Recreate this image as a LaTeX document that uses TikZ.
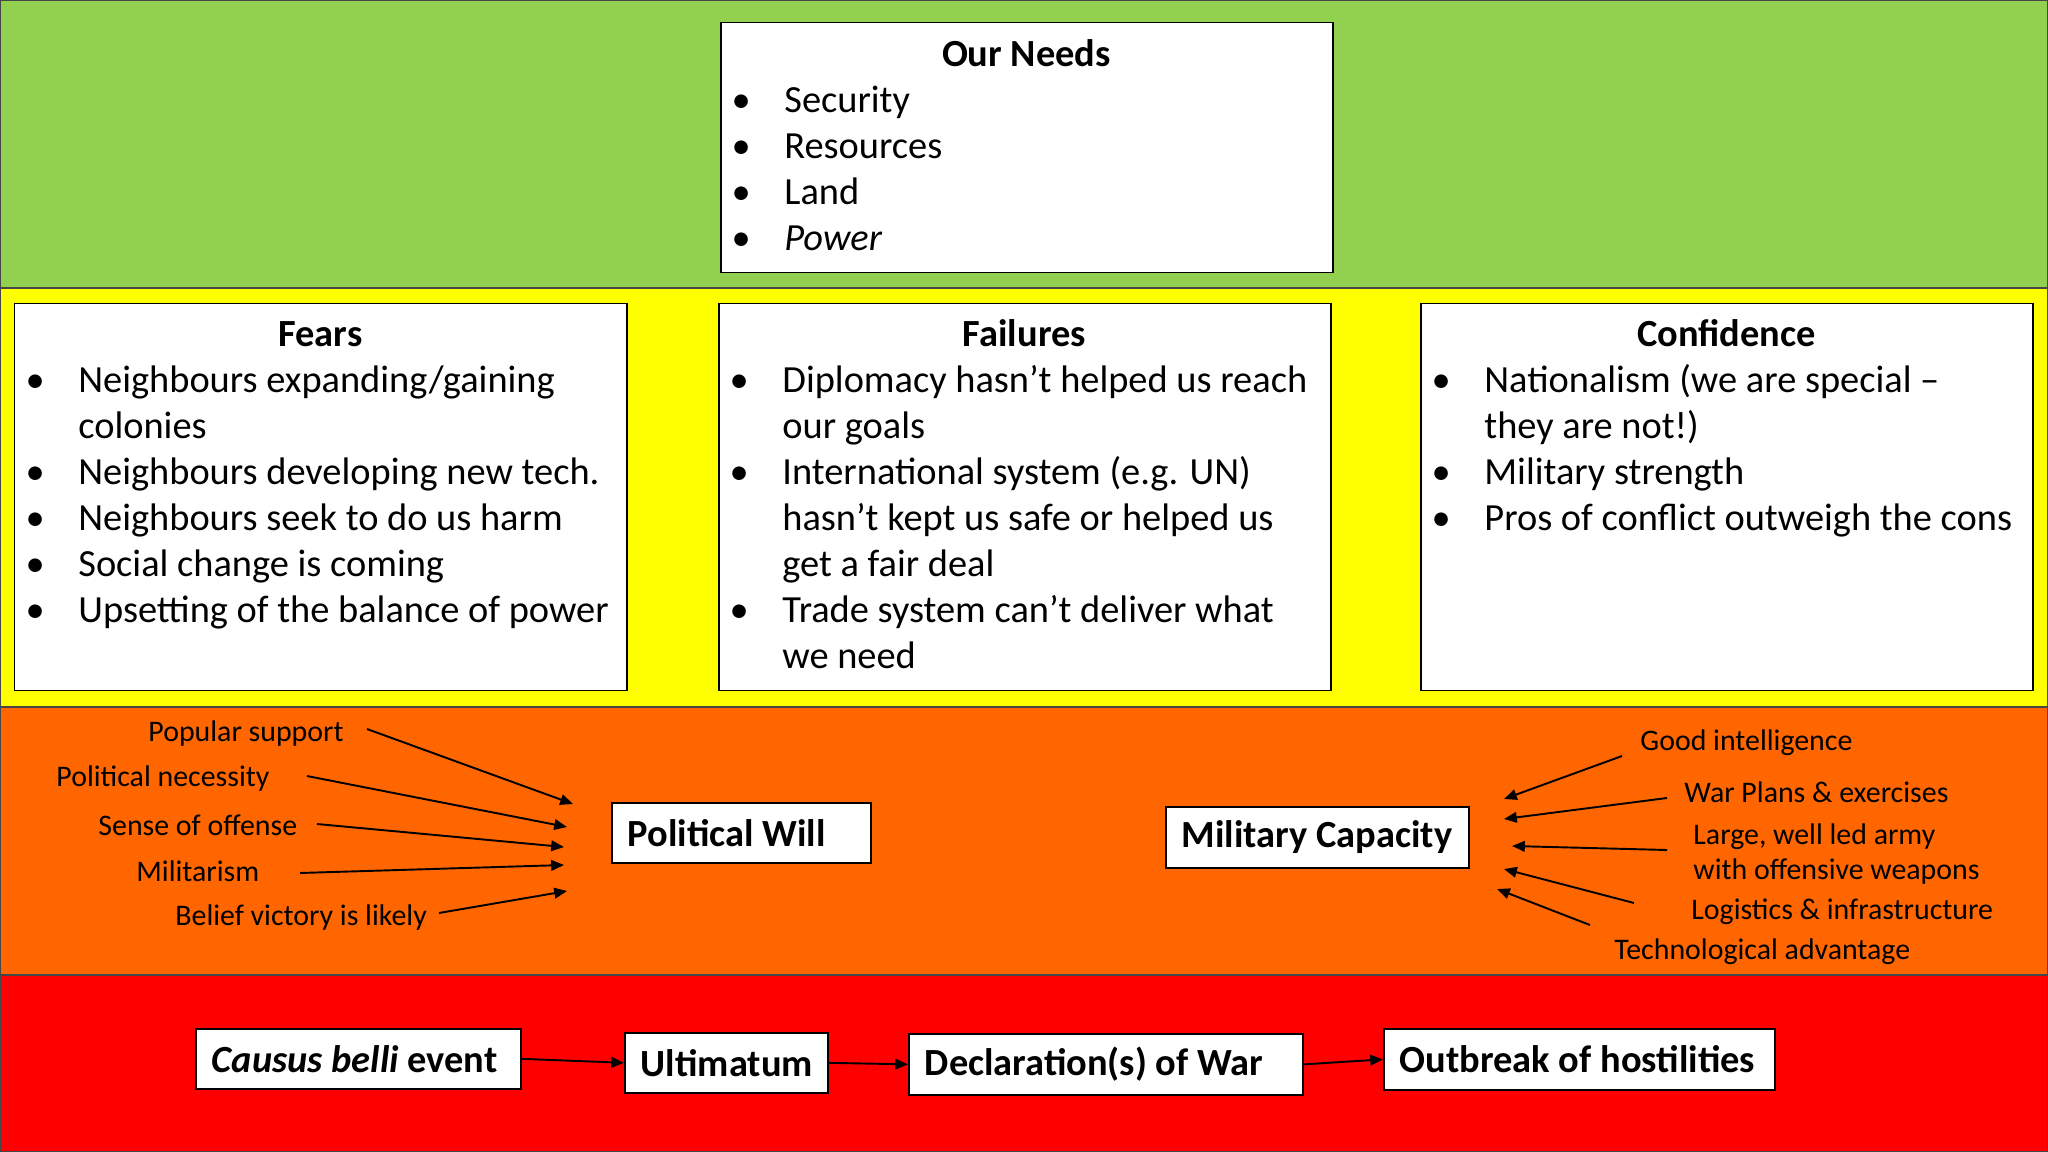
\documentclass[tikz,border=0pt]{standalone}
\usepackage{fontspec}
\setmainfont{Carlito}
\usetikzlibrary{arrows.meta}
\definecolor{bgreen}{HTML}{92D050}
\definecolor{byellow}{HTML}{FFFF00}
\definecolor{borange}{HTML}{FF6600}
\definecolor{bred}{HTML}{FF0000}
\newcommand{\fixsp}{\spaceskip=0pt\xspaceskip=0pt\relax}
\newcommand{\bitem}{\par\hangindent=26.7pt\hangafter=1\noindent\makebox[26.7pt][l]{\hspace{2pt}•}}
\newcommand{\btitle}[1]{{\centering\rule{0pt}{14pt}\textbf{#1}\par}}
\begin{document}
\begin{tikzpicture}[x=0.46875pt,y=-0.46875pt,
  box/.style={draw=black,fill=white,line width=0.7pt,inner sep=0pt,anchor=north west,minimum width=286.875pt},
  content/.style={inner sep=0pt,anchor=north west,text width=280.3pt,font=\fontsize{18}{21.5625}\selectfont},
  lbl/.style={inner sep=0pt,anchor=west,align=left,font=\fontsize{14}{16.8}\selectfont},
  arr/.style={line width=0.9pt,-{Triangle[length=6pt,width=5pt]}},
  band/.style={draw=gray!55!black,line width=1pt},
  tbox/.style={draw=black,fill=white,line width=0.8pt,inner xsep=7.5pt,inner ysep=0pt,anchor=north west,font=\fontsize{18}{21.6}\selectfont\bfseries}
]
\useasboundingbox (0,0) rectangle (2048,1152);
% bands
\path[band,fill=bgreen] (0,0) rectangle (2048,288);
\path[band,fill=byellow] (0,288) rectangle (2048,707);
\path[band,fill=borange] (0,707) rectangle (2048,975);
\path[band,fill=bred] (0,975) rectangle (2048,1152);

% Our Needs
\node[box,minimum height=117.1875pt] (needs) at (720,22) {};
\node[content] (needsT) at (727,36.1) {\fixsp\raggedright\btitle{Our Needs}%
\bitem Security
\bitem Resources
\bitem Land
\bitem \textit{Power}\par};

% Fears / Failures / Confidence
\node[box,minimum height=181.4pt] (fears) at (14,303) {};
\node[box,minimum height=181.4pt] (failures) at (718,303) {};
\node[box,minimum height=181.4pt] (confidence) at (1420,303) {};

\node[content] (fearsT) at (21,316.1) {\fixsp\raggedright\btitle{Fears}%
\bitem Neighbours expanding/gaining\newline colonies
\bitem Neighbours developing new tech.
\bitem Neighbours seek to do us harm
\bitem Social change is coming
\bitem Upsetting of the balance of power\par};

\node[content] (failuresT) at (725,316.1) {\fixsp\raggedright\btitle{Failures}%
\bitem Diplomacy hasn’t helped us reach\newline our goals
\bitem International system (e.g. UN)\newline hasn’t kept us safe or helped us\newline get a fair deal
\bitem Trade system can’t deliver what\newline we need\par};

\node[content] (confidenceT) at (1427,316.1) {\fixsp\raggedright\btitle{Confidence}%
\bitem Nationalism (we are special –\newline they are not!)
\bitem Military strength
\bitem Pros of conflict outweigh the cons\par};

% Political will
\node[tbox,text width=106.4pt,minimum height=28.1pt] (pw) at (611,802) {\fixsp\mbox{Political Will}};
\node[lbl] (l1) at (148,734) {Popular support};
\node[lbl] (l2) at (56,779) {Political necessity};
\node[lbl] (l3) at (98,825) {Sense of offense};
\node[lbl] (l4) at (136,871) {Militarism};
\node[lbl] (l5) at (175,918) {Belief victory is likely};
\coordinate (s1) at (367,729); \coordinate (t1) at (573,804);
\coordinate (s2) at (307,776); \coordinate (t2) at (567,827);
\coordinate (s3) at (317,824); \coordinate (t3) at (564,847);
\coordinate (s4) at (300,873); \coordinate (t4) at (564,865);
\coordinate (s5) at (439,913); \coordinate (t5) at (567,891);
\foreach \i in {1,...,5} \draw[arr] (s\i) -- (t\i);

% Military capacity
\node[tbox,text width=127pt,minimum height=28.6pt] (mc) at (1165,806) {\fixsp\mbox{Military Capacity}};
\node[lbl] (r1) at (1640,743) {Good intelligence};
\node[lbl] (r2) at (1684,792) {War Plans \& exercises};
\node[lbl] (r3) at (1693,854) {Large, well led army\\with offensive weapons};
\node[lbl] (r4) at (1691,912) {Logistics \& infrastructure};
\node[lbl] (r5) at (1614,952) {Technological advantage};
\coordinate (u1) at (1622,756); \coordinate (v1) at (1504,799);
\coordinate (u2) at (1667,798); \coordinate (v2) at (1504,819);
\coordinate (u3) at (1667,850); \coordinate (v3) at (1512,846);
\coordinate (u4) at (1634,903); \coordinate (v4) at (1504,869);
\coordinate (u5) at (1590,925); \coordinate (v5) at (1497,889);
\foreach \i in {1,...,5} \draw[arr] (u\i) -- (v\i);

% Sequence
\node[tbox,text width=137.3pt,minimum height=28.1pt] (cb) at (195,1028) {\fixsp\mbox{\textit{Causus belli} event}};
\node[tbox,text width=80.2pt,minimum height=28.1pt] (ul) at (624,1032) {\fixsp\mbox{Ultimatum}};
\node[tbox,text width=169.7pt,minimum height=28.6pt] (dw) at (908,1033) {\fixsp\mbox{Declaration(s) of War}};
\node[tbox,text width=168.3pt,minimum height=28.6pt] (oh) at (1383,1028) {\fixsp\mbox{Outbreak of hostilities}};
\draw[arr] (cb.east) -- (ul.west);
\draw[arr] (ul.east) -- (dw.west);
\draw[arr] (dw.east) -- (oh.west);
\end{tikzpicture}
\end{document}
